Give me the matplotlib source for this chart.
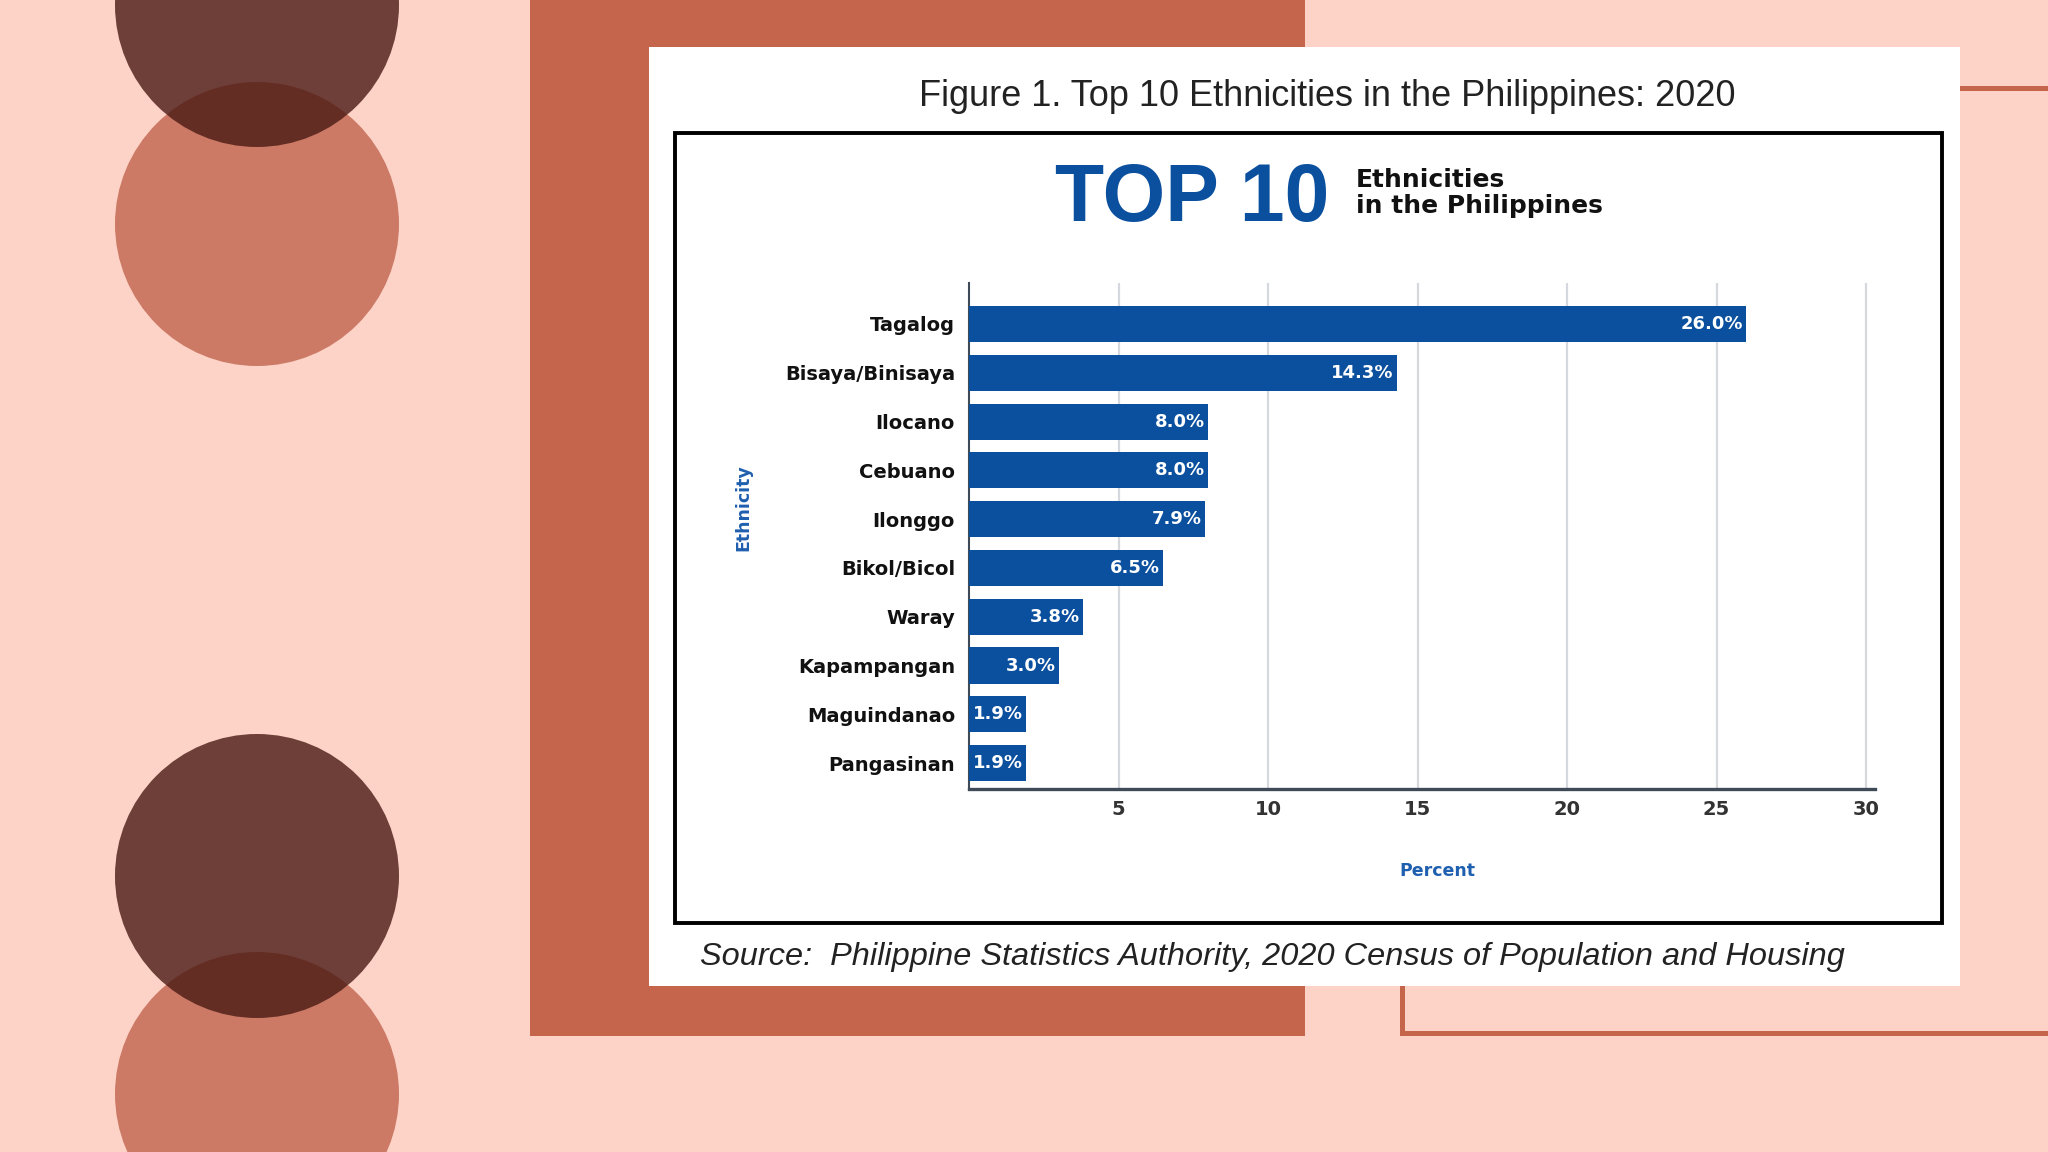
#!/usr/bin/env python3
"""
plot.py
Top 10 ethnicities in the Philippines (2020) - bar chart on a slide-style background.
Writes out.png (2048x1152).
"""
import matplotlib
matplotlib.use("Agg")
import matplotlib.pyplot as plt
from matplotlib.patches import Rectangle, Circle

# data
ethnicities = ["Tagalog", "Bisaya/Binisaya", "Ilocano", "Cebuano", "Ilonggo",
               "Bikol/Bicol", "Waray", "Kapampangan", "Maguindanao", "Pangasinan"]
percent = [26.0, 14.3, 8.0, 8.0, 7.9, 6.5, 3.8, 3.0, 1.9, 1.9]
bar_labels = ["26.0%", "14.3%", "8.0%", "8.0%", "7.9%", "6.5%", "3.8%", "3.0%", "1.9%", "1.9%"]
x_ticks = [5, 10, 15, 20, 25, 30]

# colours
PINK = "#FDD3C7"
TERRA = "#C4654C"
LIGHT_CIRCLE = "#CC7A66"
DARK_CIRCLE = "#4A1A14"
BLUE = "#0B509E"
AXIS_BLUE = "#1F5FAF"

W, H = 2048, 1152
FONT = "Liberation Sans"   # slide text (Arial-like)
BOLD = "DejaVu Sans"       # wide bold face used inside the chart

def fx(x):  # pixel -> figure fraction
    return x / W

def fy(y):
    return 1 - y / H

fig = plt.figure(figsize=(W / 100, H / 100), dpi=100, facecolor=PINK)

# background decoration, drawn in pixel units
bg = fig.add_axes([0, 0, 1, 1])
bg.set_xlim(0, W); bg.set_ylim(H, 0); bg.axis("off")
for cy in (224, 1094):
    bg.add_patch(Circle((257, cy), 142, color=LIGHT_CIRCLE, lw=0))
for cy in (5, 876):
    bg.add_patch(Circle((257, cy), 142, color=DARK_CIRCLE, alpha=0.8, lw=0))
bg.add_patch(Rectangle((1402, 88), 700, 945, fill=False, edgecolor=TERRA, lw=3.6))
bg.add_patch(Rectangle((530, -5), 775, 1041, color=TERRA, lw=0))
bg.add_patch(Rectangle((649, 47), 1311, 939, color="white", lw=0))
bg.add_patch(Rectangle((675, 133), 1267, 790, fill=False, edgecolor="black", lw=2.8))

# texts on the panel
fig.text(fx(1327), fy(96), "Figure 1. Top 10 Ethnicities in the Philippines: 2020",
         ha="center", va="center", fontsize=26, color="#222222", family=FONT)
fig.text(fx(1055), fy(200), "TOP 10", ha="left", va="center", fontsize=58,
         fontweight="bold", color=BLUE, family=FONT)
fig.text(fx(1356), fy(193), "Ethnicities\nin the Philippines", ha="left", va="center",
         fontsize=18, fontweight="bold", color="#111111", family=BOLD, linespacing=1.15)
fig.text(fx(700), fy(957), "Source:  Philippine Statistics Authority, 2020 Census of Population and Housing",
         ha="left", va="center", fontsize=23.4, style="italic", color="#222222", family=FONT)

# bar chart
ax_left, ax_right = 969, 1875
ax_top, ax_bottom = 283, 789
ax = fig.add_axes([fx(ax_left), fy(ax_bottom), (ax_right - ax_left) / W, (ax_bottom - ax_top) / H])
ax.set_facecolor("none")
ypos = list(range(len(ethnicities)))
ax.barh(ypos, percent, height=0.74, color=BLUE, zorder=3)
for y, v, lab in zip(ypos, percent, bar_labels):
    ax.text(v - 0.1, y, lab, ha="right", va="center", color="white",
            fontsize=13, fontweight="bold", family=BOLD, zorder=4)

ax.set_xlim(0, 30.3)
ax.set_ylim(9.53, -0.84)
ax.set_xticks(x_ticks)
ax.set_xticklabels([str(t) for t in x_ticks], fontsize=14, fontweight="bold",
                   color="#333333", family=BOLD)
ax.set_yticks(ypos)
ax.set_yticklabels(ethnicities, fontsize=14, fontweight="bold", color="#111111", family=BOLD)
ax.tick_params(axis="both", length=0)
ax.tick_params(axis="x", pad=8)
ax.tick_params(axis="y", pad=10)
for t in x_ticks:
    ax.axvline(t, color="#D5D8DC", lw=1.6, zorder=1)
for s in ("top", "right"):
    ax.spines[s].set_visible(False)
ax.spines["left"].set_color("#3E4A57")
ax.spines["left"].set_linewidth(1.5)
ax.spines["bottom"].set_color("#3E4A57")
ax.spines["bottom"].set_linewidth(2.4)

fig.text(fx(1437), fy(871), "Percent", ha="center", va="center", fontsize=12.5,
         fontweight="bold", color=AXIS_BLUE, family=BOLD)
fig.text(fx(743), fy(508), "Ethnicity", ha="center", va="center", rotation=90,
         fontsize=12.5, fontweight="bold", color=AXIS_BLUE, family=BOLD)

fig.savefig("out.png", dpi=100, facecolor=PINK)
